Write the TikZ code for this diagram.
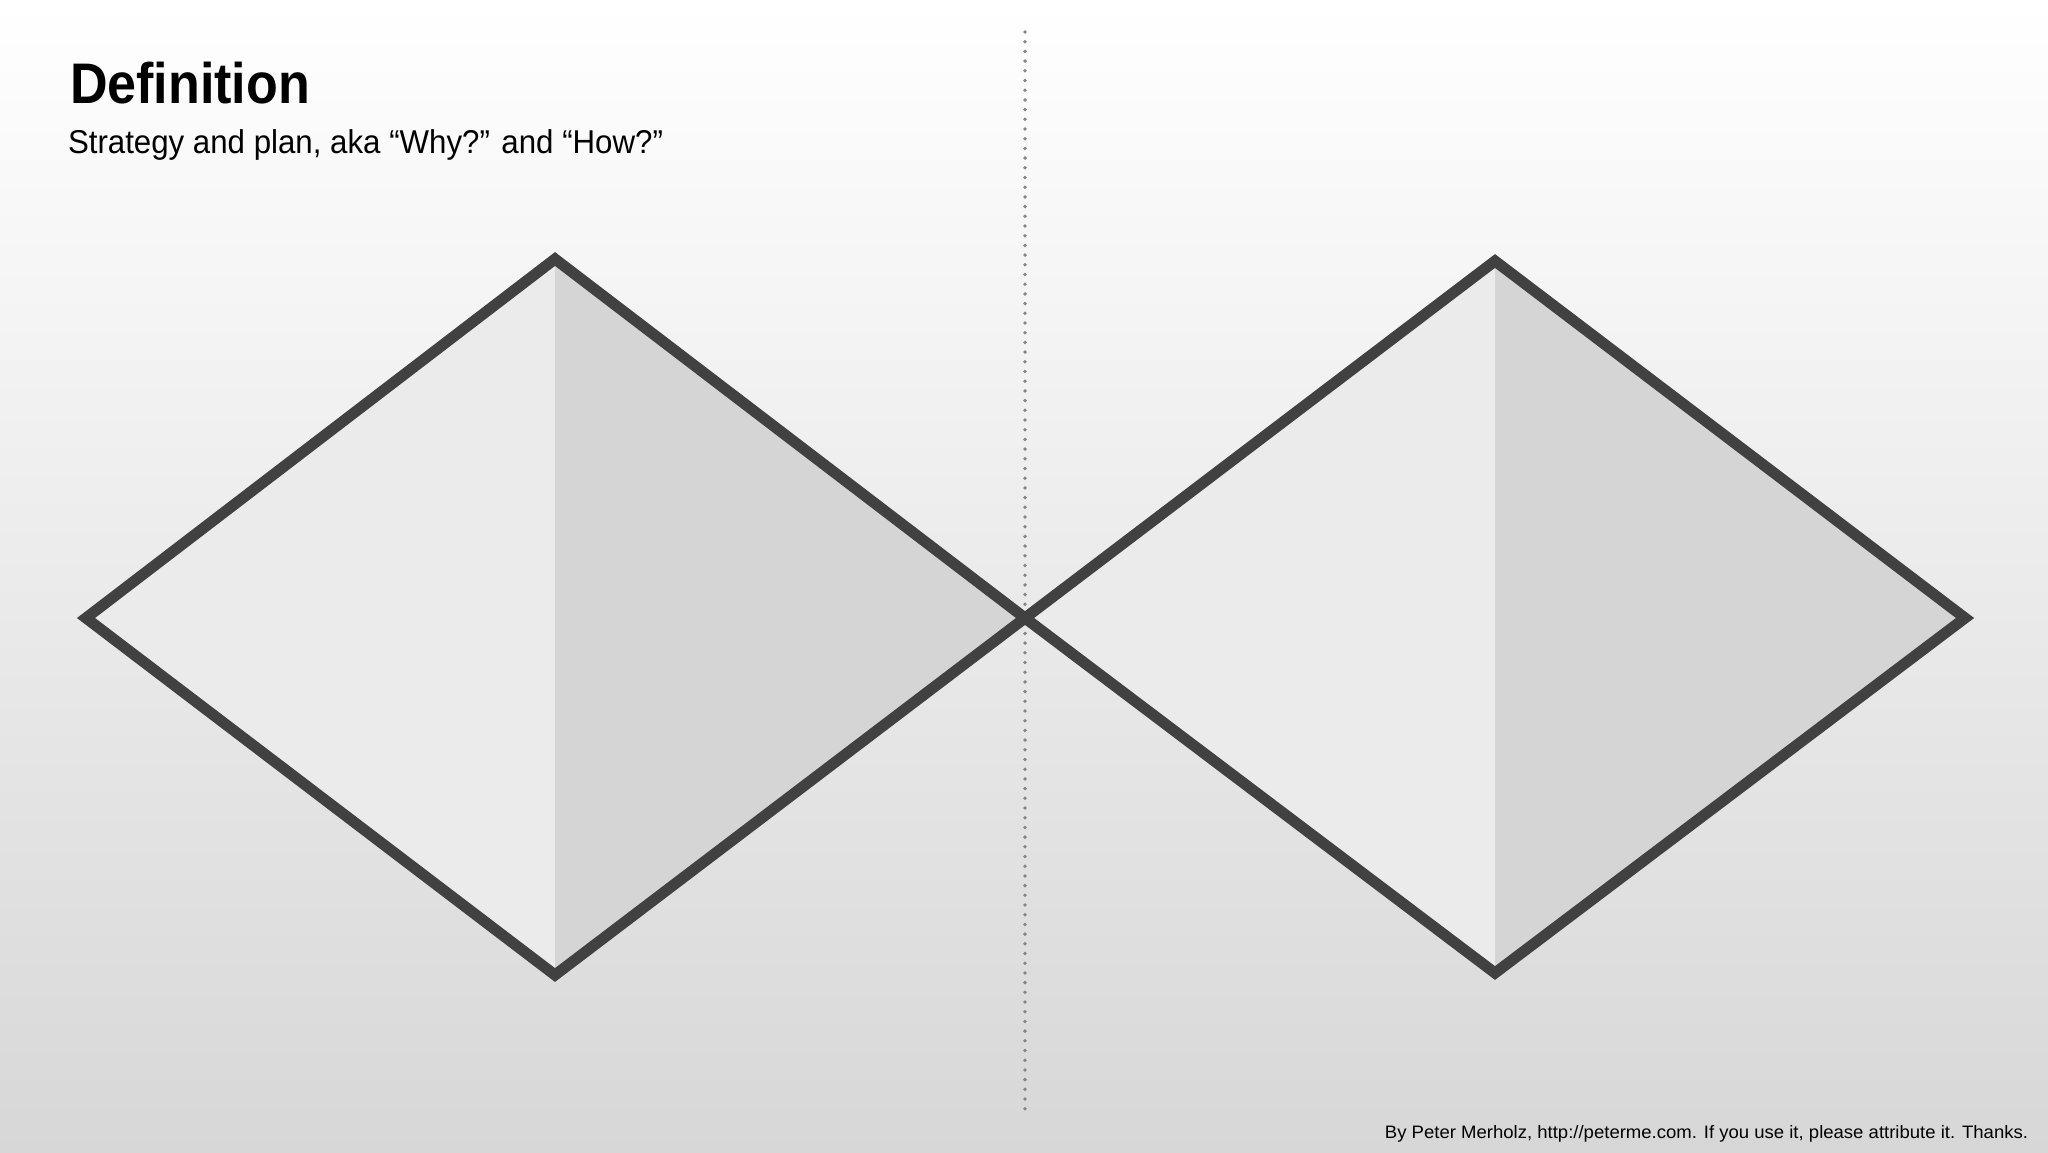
\documentclass[tikz,border=0pt]{standalone}
\usepackage{fontspec}
\setmainfont{Liberation Sans}
\usepackage{graphicx}
\definecolor{bgtop}{HTML}{FFFFFF}
\definecolor{bgbot}{HTML}{D7D7D7}
\definecolor{lightface}{HTML}{EBEBEB}
\definecolor{darkface}{HTML}{D5D5D5}
\definecolor{edgecol}{HTML}{414141}
\definecolor{dotcol}{HTML}{858585}
\tikzset{
  txt/.style={inner sep=0pt, outer sep=0pt, text=black},
  edge/.style={draw=edgecol, line width=5.5pt, line join=miter},
  dotline/.style={draw=dotcol, line width=1.9pt, line cap=round, dash pattern=on 0pt off 4.85pt}
}
\begin{document}
\begin{tikzpicture}[x=0.5pt, y=-0.5pt]
\useasboundingbox (0,0) rectangle (2048,1152);
\shade[top color=bgtop, bottom color=bgbot] (0,0) rectangle (2048,1152);

% dotted divider
\coordinate (dtop) at (1025,32);
\coordinate (dbot) at (1025,1117);
\draw[dotline] (dtop) -- (dbot);

% left diamond
\coordinate (lt) at (555,259);
\coordinate (ll) at (86,618);
\coordinate (lb) at (555,975);
\coordinate (lr) at (1025,618);
\fill[lightface] (lt) -- (ll) -- (lb) -- cycle;
\fill[darkface] (lt) -- (lr) -- (lb) -- cycle;
\draw[edge] (lt) -- (ll) -- (lb) -- (lr) -- cycle;

% right diamond
\coordinate (rt) at (1495,261);
\coordinate (rl) at (1025,618);
\coordinate (rb) at (1495,973);
\coordinate (rr) at (1965,618);
\fill[lightface] (rt) -- (rl) -- (rb) -- cycle;
\fill[darkface] (rt) -- (rr) -- (rb) -- cycle;
\draw[edge] (rt) -- (rl) -- (rb) -- (rr) -- cycle;

% texts
\node[txt, anchor=base west] (title) at (70,103)
  {\resizebox{120pt}{\height}{\fontsize{28.6pt}{32pt}\selectfont\bfseries Definition}};
\node[txt, anchor=base west] (subtitle) at (68,153)
  {\resizebox{297.5pt}{\height}{\fontsize{16.5pt}{19pt}\selectfont Strategy and plan, aka “Why?” and “How?”}};
\node[txt, anchor=base east] (credit) at (2028,1138)
  {\resizebox{321.5pt}{\height}{\fontsize{9pt}{11pt}\selectfont By Peter Merholz, http://peterme.com. If you use it, please attribute it. Thanks.}};
\end{tikzpicture}
\end{document}
